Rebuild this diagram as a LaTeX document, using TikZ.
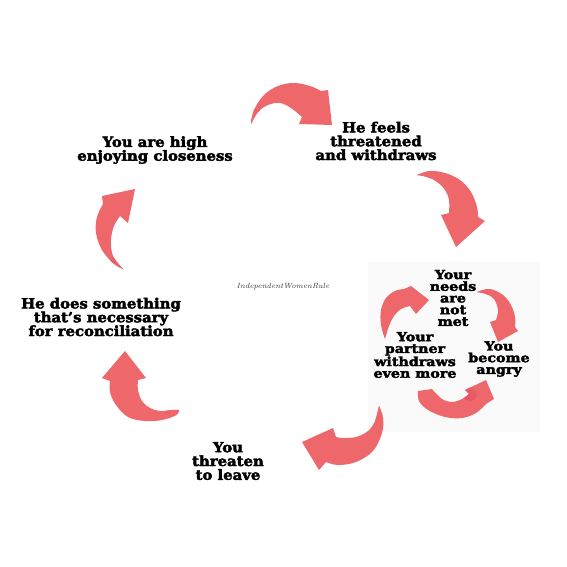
\documentclass[tikz,border=0pt]{standalone}
\usepackage{fontspec}
\setmainfont{DejaVu Serif}
\newfontfamily\heavy{DejaVu Serif}[BoldFeatures={FakeBold=2.8}]
\newfontfamily\logofont{Latin Modern Roman}
\definecolor{arr}{RGB}{237,103,107}
\definecolor{tailc}{RGB}{230,75,98}
\tikzset{
  lbl/.style={font=\heavy\bfseries\fontsize{14}{13.8}\selectfont, align=center, inner sep=0pt, text=black, xscale=1.06},
  slbl/.style={font=\heavy\bfseries\fontsize{12.5}{11.7}\selectfont, align=center, inner sep=0pt, text=black, xscale=1.14},
  logo/.style={font=\logofont\itshape\fontsize{7.5}{8}\selectfont, inner sep=0pt, text=black!80},
  arrowshape/.style={fill=arr},
  tailspot/.style={inner color=tailc, outer color=arr}
}
\begin{document}
\begin{tikzpicture}[x=1pt,y=-1pt]
\useasboundingbox (0,0) rectangle (567,567);
\fill[white] (0,0) rectangle (567,567);
\fill[black!2] (368,262) rectangle (540,432);

% A (top)
\fill[arrowshape, path picture={\shade[tailspot] (255,119) circle (10);}]
  plot[smooth,tension=0.6] coordinates {(251,124) (254,110) (264,95) (278,86) (294,83) (310,86) (321,91)}
  -- (328,90) -- (332,125) -- (299,124)
  -- plot[smooth,tension=0.6] coordinates {(302,117) (291,108) (280,103) (268,105) (258,112) (251,124)} -- cycle;
% B (right)
\fill[arrowshape, path picture={\shade[tailspot] (420,177) circle (10);}]
  plot[smooth,tension=0.6] coordinates {(417,175) (430,171) (445,173) (460,180) (471,192) (477,207) (478,217)}
  -- (485,221) -- (456,247) -- (441,215)
  -- plot[smooth,tension=0.6] coordinates {(449,213) (449,200) (445,190) (437,182) (427,177) (417,175)} -- cycle;
% C (left top)
\fill[arrowshape, path picture={\shade[tailspot] (119,265) circle (10);}]
  plot[smooth,tension=0.6] coordinates {(123,269) (113,263) (102,250) (96,233) (97,217) (103,204)}
  -- (102,196) -- (135,189) -- (128,223)
  -- plot[smooth,tension=0.6] coordinates {(120,216) (114,226) (111,240) (113,256) (123,269)} -- cycle;
% D (left bottom)
\fill[arrowshape, path picture={\shade[tailspot] (176,412) circle (10);}]
  plot[smooth,tension=0.6] coordinates {(179,410) (176,415) (162,420) (145,421) (128,417) (116,405) (110,392) (110,381)}
  -- (102,378) -- (125,351) -- (146,378)
  -- plot[smooth,tension=0.6] coordinates {(138,380) (138,390) (142,401) (150,408) (160,411) (172,410) (179,410)} -- cycle;
% E (bottom)
\fill[arrowshape, path picture={\shade[tailspot] (380,411) circle (10);}]
  plot[smooth,tension=0.6] coordinates {(379,406) (383,418) (382,433) (373,451) (356,462) (338,465) (326,462)}
  -- (319,470) -- (302,442) -- (333,428)
  -- plot[smooth,tension=0.6] coordinates {(336,437) (343,438) (356,437) (368,431) (375,421) (379,406)} -- cycle;
% F (inner left)
\fill[arrowshape]
  plot[smooth,tension=0.6] coordinates {(385,339) (381,325) (381,310) (386,298) (395,291) (404,289)}
  -- (411,286) -- (429,300) -- (416,314)
  -- plot[smooth,tension=0.6] coordinates {(410,306) (401,309) (394,316) (389,326) (385,339)} -- cycle;
% G (inner right)
\fill[arrowshape, path picture={\shade[tailspot] (480,292) circle (8);}]
  plot[smooth,tension=0.6] coordinates {(477,292) (490,289) (503,295) (511,305) (515,317) (515,327)}
  -- (518,331) -- (498,342) -- (490,322)
  -- plot[smooth,tension=0.6] coordinates {(496,320) (498,310) (494,299) (486,294) (477,292)} -- cycle;
% H (inner bottom)
\fill[arrowshape, path picture={\shade[tailspot] (470,394) circle (7);}]
  (432,389) --
  plot[smooth,tension=0.6] coordinates {(418,391) (419,401) (428,410) (445,417) (462,418) (476,413) (486,404)}
  -- (494,399) -- (486,380) -- (465,390)
  -- plot[smooth,tension=0.6] coordinates {(469,394) (462,399) (452,402) (442,399) (432,389)} -- cycle;

\node[lbl] (high) at (155,150) {You are high\\enjoying closeness};
\node[lbl] (feels) at (376,141) {He feels\\threatened\\and withdraws};
\node[lbl] (recon) at (101,317) {He does something\\that’s necessary\\for reconciliation};
\node[lbl] (leave) at (228,461) {You\\threaten\\to leave};
\node[slbl] (needs) at (453,298) {Your\\needs\\are\\not\\met};
\node[slbl] (angry) at (499,359) {You\\become\\angry};
\node[slbl] (partner) at (415,355) {Your\\partner\\withdraws\\even more};
\node[logo] (logo) at (283,287) {IndependentWomenRule};
\end{tikzpicture}
\end{document}
